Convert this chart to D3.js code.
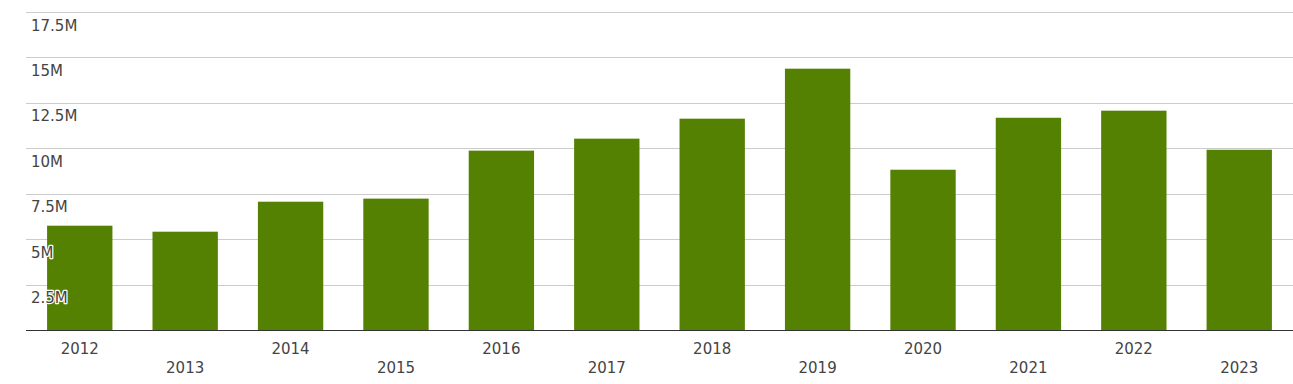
<!DOCTYPE html>
<html>
<head>
<meta charset="utf-8">
<script src="https://cdn.jsdelivr.net/npm/d3@7"></script>
<style>
  body { margin: 0; background: #fff; }
  text { font-family: "DejaVu Sans", sans-serif; }
</style>
</head>
<body>
<div id="chart"></div>
<script>
    var years = ["2012", "2013", "2014", "2015", "2016", "2017", "2018", "2019", "2020", "2021", "2022", "2023"];
    var values = [5.74, 5.41, 7.06, 7.23, 9.87, 10.53, 11.63, 14.38, 8.82, 11.68, 12.07, 9.92];
    var yTicks = [2.5, 5, 7.5, 10, 12.5, 15, 17.5];

    var data = years.map((y, i) => ({ year: y, value: values[i] * 1e6 }));

    var svg = d3.select("#chart")
                .append("svg")
                .attr("width", 1293)
                .attr("height", 384);

    var margin = { top: 12, right: 0, bottom: 54, left: 26 };
    var width = 1293 - margin.left - margin.right;
    var height = 384 - margin.top - margin.bottom;

    var xScale = d3.scaleBand()
                   .domain(years)
                   .range([margin.left, margin.left + width])
                   .paddingInner(0.38)
                   .paddingOuter(0.2);

    var yScale = d3.scaleLinear()
                   .domain([0, 17.5e6])
                   .range([margin.top + height, margin.top]);

    // gridlines
    svg.append("g")
       .selectAll("line")
       .data(yTicks)
       .enter()
       .append("line")
       .attr("x1", margin.left)
       .attr("x2", margin.left + width)
       .attr("y1", d => Math.round(yScale(d * 1e6)) + 0.5)
       .attr("y2", d => Math.round(yScale(d * 1e6)) + 0.5)
       .attr("stroke", "#cccccc")
       .attr("stroke-width", 1);

    svg.append("g")
       .selectAll("rect")
       .data(data)
       .enter()
       .append("rect")
       .attr("x", d => xScale(d.year))
       .attr("width", xScale.bandwidth())
       .attr("y", d => yScale(d.value))
       .attr("height", d => yScale(0) - yScale(d.value))
       .attr("fill", "#548102");

    // baseline
    svg.append("line")
       .attr("x1", margin.left)
       .attr("x2", margin.left + width)
       .attr("y1", Math.round(yScale(0)) + 0.5)
       .attr("y2", Math.round(yScale(0)) + 0.5)
       .attr("stroke", "#333333")
       .attr("stroke-width", 1);

    // y labels with white halo
    svg.append("g")
       .selectAll("text")
       .data(yTicks)
       .enter()
       .append("text")
       .attr("x", margin.left + 5)
       .attr("y", d => yScale(d * 1e6) + 18.5)
       .attr("fill", "#444444")
       .attr("stroke", "#ffffff")
       .attr("stroke-width", 2.5)
       .attr("stroke-linejoin", "round")
       .attr("paint-order", "stroke")
       .style("font-size", "15px")
       .text(d => d + "M");

    // x labels, staggered
    svg.append("g")
       .selectAll("text")
       .data(years)
       .enter()
       .append("text")
       .attr("x", d => xScale(d) + xScale.bandwidth() / 2)
       .attr("y", (d, i) => i % 2 === 0 ? 353.5 : 373)
       .attr("text-anchor", "middle")
       .attr("fill", "#444444")
       .style("font-size", "15px")
       .text(d => d);
</script>
</body>
</html>
